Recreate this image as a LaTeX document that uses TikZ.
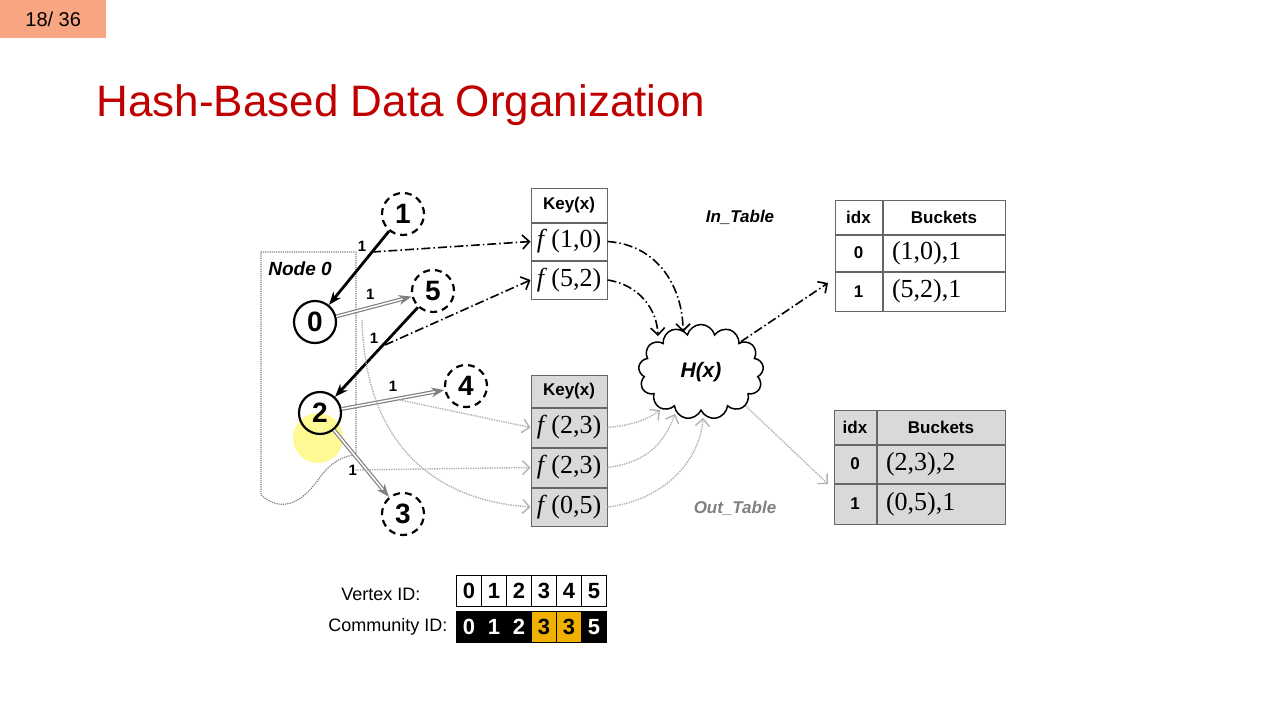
\documentclass[tikz,border=0pt]{standalone}
\usepackage{fontspec}
\setmainfont{Liberation Serif}
\setsansfont{Liberation Sans}
\usetikzlibrary{shapes.symbols,arrows.meta}
\definecolor{titlered}{RGB}{192,0,0}
\definecolor{badge}{RGB}{248,165,130}
\definecolor{commorange}{RGB}{240,176,0}
\tikzset{
  vtx/.style={circle, draw, line width=2.2pt, minimum size=42pt, inner sep=0pt, font=\sffamily\bfseries\fontsize{28}{28}\selectfont},
  ghost/.style={vtx, dash pattern=on 7pt off 5pt},
  inedge/.style={line width=2.8pt, -{Stealth[length=13pt]}},
  outedge/.style={double=white, draw=gray, line width=1.2pt, double distance=1.5pt, -{Stealth[length=13pt,fill=gray]}},
  wt/.style={font=\sffamily\bfseries\fontsize{15}{15}\selectfont},
  cell/.style={draw=gray!80!black, line width=1pt, minimum width=76pt, inner sep=0pt, font=\rmfamily\fontsize{26}{26}\selectfont},
  hdr/.style={cell, font=\sffamily\bfseries\fontsize{17}{17}\selectfont},
  dd/.style={dash pattern=on 9pt off 3pt on 1.5pt off 3pt, line width=1.6pt, -{Straight Barb[length=7pt]}},
  gd/.style={densely dotted, gray!60, line width=1.4pt, -{Straight Barb[length=7pt]}},
  vid/.style={draw, line width=1pt, minimum width=25pt, minimum height=31pt, inner sep=0pt, font=\sffamily\bfseries\fontsize{22}{22}\selectfont},
}
\newcommand{\fkey}[2]{\textit{f}\,(#1,#2)}
\begin{document}
\begin{tikzpicture}[x=1pt,y=-1pt]
\useasboundingbox (0,0) rectangle (1280,720);
% page badge and title
\node[fill=badge, minimum width=106pt, minimum height=38pt, anchor=north west, font=\sffamily\fontsize{20}{20}\selectfont] (page) at (0,0) {18/ 36};
\node[anchor=west, text=titlered, font=\sffamily\fontsize{44}{44}\selectfont] (title) at (93,105) {Hash-Based Data Organization};

% partition box
\draw[densely dotted, gray, line width=1.2pt] (356,455) -- (356,252) -- (261,252) -- (261,495)
  .. controls (280,512) and (300,505) .. (318,480) .. controls (330,462) and (345,455) .. (356,455);
\node[font=\sffamily\bfseries\itshape\fontsize{19}{19}\selectfont] (part) at (300,269) {Node 0};
\fill[yellow!60, opacity=0.7] (318,438) circle (25pt);

% vertices
\node[ghost] (v1) at (403,214) {1};
\node[vtx] (v0) at (315,322) {0};
\node[ghost] (v5) at (433,291) {5};
\node[vtx] (v2) at (320,413) {2};
\node[ghost] (v4) at (466,386) {4};
\node[ghost] (v3) at (403,514) {3};

% key tables
\node[hdr, minimum height=34pt] (kin) at (569,205) {Key(x)};
\node[cell, minimum height=37pt, anchor=north] (k10) at (kin.south) {\fkey{1}{0}};
\node[cell, minimum height=38pt, anchor=north] (k52) at (k10.south) {\fkey{5}{2}};
\node[hdr, fill=gray!30, minimum height=32pt] (kout) at (569,391) {Key(x)};
\node[cell, fill=gray!30, minimum height=39pt, anchor=north] (k23a) at (kout.south) {\fkey{2}{3}};
\node[cell, fill=gray!30, minimum height=39pt, anchor=north] (k23b) at (k23a.south) {\fkey{2}{3}};
\node[cell, fill=gray!30, minimum height=38pt, anchor=north] (k05) at (k23b.south) {\fkey{0}{5}};

% hash cloud
\node[cloud, draw, line width=1.5pt, cloud puffs=13, minimum width=125pt, minimum height=95pt, font=\sffamily\bfseries\itshape\fontsize{21}{21}\selectfont] (hash) at (701,372) {H(x)};
\node[font=\sffamily\bfseries\itshape\fontsize{17}{17}\selectfont] (tin) at (740,217) {In\_Table};
\node[text=gray, font=\sffamily\bfseries\itshape\fontsize{17}{17}\selectfont] (tout) at (735,508) {Out\_Table};

% bucket tables
\node[hdr, minimum width=47pt, minimum height=34pt] (ih) at (858.5,217) {idx};
\node[hdr, minimum width=122pt, minimum height=34pt, anchor=west] (ib) at (ih.east) {Buckets};
\node[hdr, minimum width=47pt, minimum height=36pt, anchor=north] (i0) at (ih.south) {0};
\node[cell, minimum width=122pt, minimum height=36pt, anchor=west, text width=104pt] (ib0) at (i0.east) {(1,0),1};
\node[hdr, minimum width=47pt, minimum height=39pt, anchor=north] (i1) at (i0.south) {1};
\node[cell, minimum width=122pt, minimum height=39pt, anchor=west, text width=104pt] (ib1) at (i1.east) {(5,2),1};
\node[hdr, fill=gray!30, minimum width=42pt, minimum height=34pt] (oh) at (855,427) {idx};
\node[hdr, fill=gray!30, minimum width=128pt, minimum height=34pt, anchor=west] (ob) at (oh.east) {Buckets};
\node[hdr, fill=gray!30, minimum width=42pt, minimum height=38pt, anchor=north] (o0) at (oh.south) {0};
\node[cell, fill=gray!30, minimum width=128pt, minimum height=38pt, anchor=west, text width=110pt] (ob0) at (o0.east) {(2,3),2};
\node[hdr, fill=gray!30, minimum width=42pt, minimum height=40pt, anchor=north] (o1) at (o0.south) {1};
\node[cell, fill=gray!30, minimum width=128pt, minimum height=40pt, anchor=west, text width=110pt] (ob1) at (o1.east) {(0,5),1};

% edges
\draw[inedge] (v1) -- node[wt, pos=0.2, left=6pt] {1} (v0);
\draw[inedge] (v5) -- node[wt, pos=0.35, left=6pt] {1} (v2);
\draw[outedge] (v0) -- node[wt, pos=0.45, above=4pt] {1} (v5);
\draw[outedge] (v2) -- node[wt, pos=0.5, above=4pt] {1} (v4);
\draw[outedge] (v2) -- node[wt, pos=0.6, left=6pt] {1} (v3);

% key flows
\coordinate (e10) at (372,252);
\coordinate (e52) at (385,345);
\draw[dd] (e10) -- (k10.west);
\draw[dd] (e52) -- (k52.west);
\draw[dd] (k10.east) .. controls (660,245) and (683,290) .. (683,332);
\draw[dd] (k52.east) .. controls (640,285) and (657,310) .. (658,336);
\draw[dd] (hash.north east) -- (828,283);
\coordinate (e24) at (400,400);
\coordinate (e23) at (355,470);
\coordinate (e05) at (362,320);
\draw[gd] (e24) -- (k23a.west);
\draw[gd] (e23) -- (k23b.west);
\draw[gd] (e05) .. controls (365,440) and (430,500) .. (k05.west);
\draw[gd] (k23a.east) .. controls (635,425) and (650,418) .. (660,410);
\draw[gd] (k23b.east) .. controls (650,462) and (665,440) .. (675,414);
\draw[gd] (k05.east) .. controls (665,500) and (700,460) .. (703,418);
\draw[gd] (hash.south east) -- (828,484);

% community map
\node[anchor=east, font=\sffamily\fontsize{18}{18}\selectfont] (vlab) at (424,594) {Vertex ID:};
\node[anchor=east, font=\sffamily\fontsize{18}{18}\selectfont] (clab) at (451,627) {Community ID:};
\foreach \i in {0,...,5}{
  \node[vid] (vx\i) at (469+25*\i,591) {\i};
}
\foreach \i/\c/\t in {0/black/white,1/black/white,2/black/white,3/commorange/black,4/commorange/black,5/black/white}{
  \pgfmathtruncatemacro{\lbl}{\i==4 ? 3 : \i}
  \node[vid, fill=\c, text=\t, draw=black] (cm\i) at (469+25*\i,627) {\lbl};
}
\end{tikzpicture}
\end{document}
